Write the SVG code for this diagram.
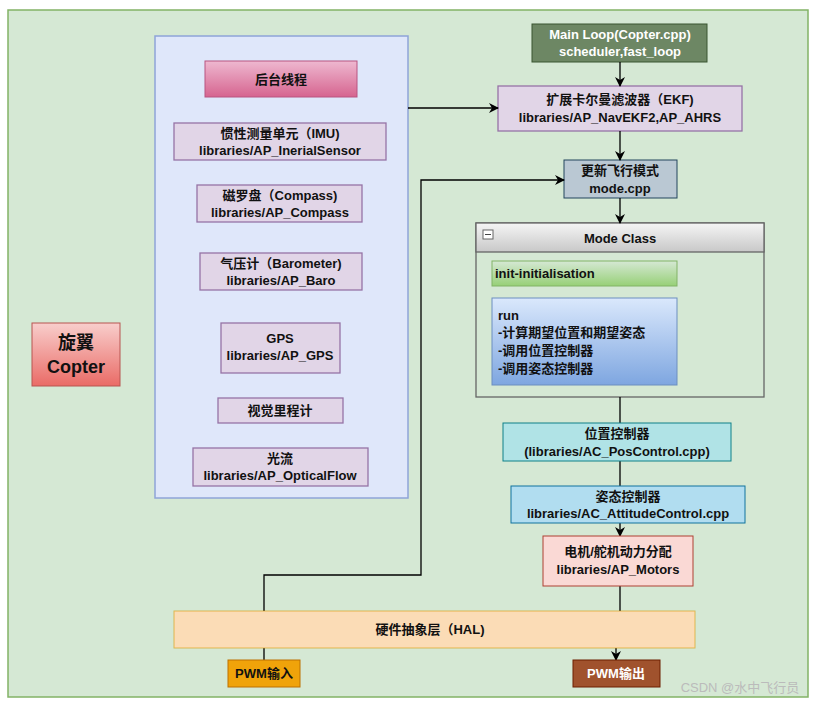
<svg xmlns="http://www.w3.org/2000/svg" width="817" height="704" viewBox="0 0 817 704">
<defs>
<marker id="arr" markerWidth="10" markerHeight="10" refX="9" refY="5" orient="auto" markerUnits="userSpaceOnUse"><path d="M0,0 L10,5 L0,10 L3,5 Z" fill="#000"/></marker>
<linearGradient id="gPink" x1="0" y1="0" x2="0" y2="1"><stop offset="0" stop-color="#eeb8d0"/><stop offset="1" stop-color="#d6648f"/></linearGradient>
<linearGradient id="gRed" x1="0" y1="0" x2="0" y2="1"><stop offset="0" stop-color="#f8cecc"/><stop offset="1" stop-color="#ea6b66"/></linearGradient>
<linearGradient id="gGray" x1="0" y1="0" x2="0" y2="1"><stop offset="0" stop-color="#f5f5f5"/><stop offset="1" stop-color="#c8c8c8"/></linearGradient>
<linearGradient id="gGreen" x1="0" y1="0" x2="0" y2="1"><stop offset="0" stop-color="#d5e8d4"/><stop offset="1" stop-color="#97d077"/></linearGradient>
<linearGradient id="gBlue" x1="0" y1="0" x2="0" y2="1"><stop offset="0" stop-color="#dae8fc"/><stop offset="1" stop-color="#7ea6e0"/></linearGradient>
</defs>
<style>
text{font-family:"Liberation Sans","Noto Sans CJK SC",sans-serif;font-size:13px;font-weight:bold;fill:#111;text-anchor:middle}
.p{fill:#e1d5e7;stroke:#9673a6;stroke-width:1.3}
.l{stroke:#000;stroke-width:1.3;fill:none}
</style>
<rect x="8" y="10" width="800" height="687" fill="#d5e8d4" stroke="#82b366" stroke-width="1.5"/>
<g id="sensors">
<rect x="155" y="36" width="253" height="462" fill="#dfe7fa" stroke="#8fa4d8" stroke-width="1.5"/>
</g>
<g id="bg"><rect x="205" y="61" width="152" height="36" fill="url(#gPink)" stroke="#b85480"/><text x="281" y="84">后台线程</text></g>
<g id="imu"><rect class="p" x="174" y="123" width="212" height="37"/><text x="280" y="138">惯性测量单元（IMU)</text><text x="280" y="155">libraries/AP_InerialSensor</text></g>
<g id="compass"><rect class="p" x="197" y="185" width="165" height="37"/><text x="280" y="200">磁罗盘（Compass)</text><text x="280" y="217">libraries/AP_Compass</text></g>
<g id="baro"><rect class="p" x="200" y="253" width="162" height="37"/><text x="281" y="268">气压计（Barometer)</text><text x="281" y="285">libraries/AP_Baro</text></g>
<g id="gps"><rect class="p" x="221" y="323" width="119" height="50"/><text x="280" y="343">GPS</text><text x="280" y="360">libraries/AP_GPS</text></g>
<g id="vo"><rect class="p" x="218" y="398" width="125" height="25"/><text x="280" y="415">视觉里程计</text></g>
<g id="of"><rect class="p" x="193" y="448" width="175" height="38"/><text x="280" y="463">光流</text><text x="280" y="480">libraries/AP_OpticalFlow</text></g>
<g id="copter"><rect x="32" y="323" width="88" height="63" fill="url(#gRed)" stroke="#b85450"/><text x="76" y="349" style="font-size:18px">旋翼</text><text x="76" y="373" style="font-size:18px">Copter</text></g>
<g id="mainloop"><rect x="532" y="24" width="175" height="38" fill="#6d8764" stroke="#3a5431"/><text x="620" y="39" style="fill:#fff">Main Loop(Copter.cpp)</text><text x="620" y="56" style="fill:#fff">scheduler,fast_loop</text></g>
<g id="ekf"><rect class="p" x="498" y="86" width="244" height="45"/><text x="620" y="104">扩展卡尔曼滤波器（EKF)</text><text x="620" y="122">libraries/AP_NavEKF2,AP_AHRS</text></g>
<g id="mode"><rect x="564" y="160" width="113" height="38" fill="#bac8d3" stroke="#23445d"/><text x="620" y="175">更新飞行模式</text><text x="620" y="193">mode.cpp</text></g>
<g id="modeclass">
<rect x="476" y="223" width="288" height="174" fill="none" stroke="#666" stroke-width="1.3"/>
<rect x="476" y="223" width="288" height="29" fill="url(#gGray)" stroke="#666" stroke-width="1.3"/>
<rect x="483" y="230" width="10" height="9" fill="#fff" stroke="#666"/><line x1="485" y1="234.5" x2="491" y2="234.5" stroke="#444"/>
<text x="620" y="243">Mode Class</text>
<rect x="492" y="261" width="185" height="25" fill="url(#gGreen)" stroke="#82b366"/><text x="495" y="278" style="text-anchor:start">init-initialisation</text>
<rect x="492" y="298" width="185" height="87" fill="url(#gBlue)" stroke="#6c8ebf"/>
<text x="498" y="320" style="text-anchor:start">run</text>
<text x="498" y="337" style="text-anchor:start">-计算期望位置和期望姿态</text>
<text x="498" y="355" style="text-anchor:start">-调用位置控制器</text>
<text x="498" y="373" style="text-anchor:start">-调用姿态控制器</text>
</g>
<g id="connectors">
<line class="l" x1="620" y1="62" x2="620" y2="86" marker-end="url(#arr)"/>
<line class="l" x1="620" y1="131" x2="620" y2="160" marker-end="url(#arr)"/>
<line class="l" x1="620" y1="198" x2="620" y2="223" marker-end="url(#arr)"/>
<line class="l" x1="620" y1="397" x2="620" y2="423"/>
<line class="l" x1="620" y1="461" x2="620" y2="486"/>
<line class="l" x1="620" y1="523" x2="620" y2="536" marker-end="url(#arr)"/>
<line class="l" x1="620" y1="586" x2="620" y2="611"/>
<line class="l" x1="616" y1="648" x2="616" y2="660" marker-end="url(#arr)"/>
<line class="l" x1="408" y1="108" x2="498" y2="108" marker-end="url(#arr)"/>
<polyline class="l" points="264,660 264,575 421,575 421,180 564,180" marker-end="url(#arr)"/>
</g>
<g id="pos"><rect x="503" y="423" width="228" height="38" fill="#b0e3e6" stroke="#0e8088"/><text x="617" y="438">位置控制器</text><text x="617" y="456">(libraries/AC_PosControl.cpp)</text></g>
<g id="att"><rect x="511" y="486" width="234" height="37" fill="#b1ddf0" stroke="#10739e"/><text x="628" y="501">姿态控制器</text><text x="628" y="518">libraries/AC_AttitudeControl.cpp</text></g>
<g id="motors"><rect x="543" y="536" width="150" height="50" fill="#fad9d5" stroke="#ae4132"/><text x="618" y="556">电机/舵机动力分配</text><text x="618" y="574">libraries/AP_Motors</text></g>
<g id="hal"><rect x="174" y="611" width="521" height="37" fill="#fbdcb6" stroke="#d79b00" stroke-opacity="0.6"/><text x="430" y="634">硬件抽象层（HAL)</text></g>
<g id="pwmin"><rect x="228" y="660" width="72" height="27" fill="#f0a30a" stroke="#bd7000"/><text x="264" y="678">PWM输入</text></g>
<g id="pwmout"><rect x="573" y="660" width="87" height="27" fill="#a0522d" stroke="#6d1f00"/><text x="616" y="678" style="fill:#fff">PWM输出</text></g>
<text x="740" y="692" style="font-weight:normal;fill:#bbb;font-size:13px">CSDN @水中飞行员</text>
</svg>
